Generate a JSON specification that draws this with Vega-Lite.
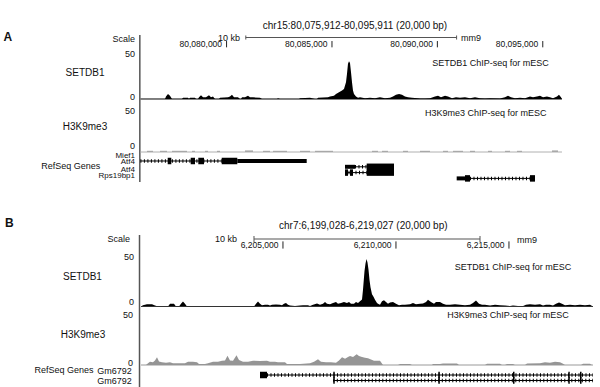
{
"$schema":"https://vega.github.io/schema/vega-lite/v6.json",
"width":600,"height":387,"padding":0,
"autosize":{"type":"none"},
"background":"white",
"config":{"view":{"stroke":null},"axis":{"disable":true},"text":{"font":"Liberation Sans","color":"#111"}},
"datasets":{
"setdb1A":[{"pos":80075912,"v":0},{"pos":80077079,"v":0},{"pos":80077126,"v":3},{"pos":80077221,"v":6},{"pos":80077316,"v":4},{"pos":80077411,"v":0},{"pos":80077885,"v":0},{"pos":80077933,"v":1.5},{"pos":80078170,"v":1.5},{"pos":80078217,"v":0},{"pos":80078265,"v":1.5},{"pos":80078502,"v":1.5},{"pos":80078550,"v":0},{"pos":80078644,"v":0},{"pos":80078692,"v":2},{"pos":80078787,"v":4.5},{"pos":80078882,"v":2},{"pos":80079024,"v":2},{"pos":80079166,"v":4.5},{"pos":80079261,"v":2},{"pos":80079356,"v":3},{"pos":80079451,"v":0},{"pos":80079641,"v":0},{"pos":80079688,"v":1.5},{"pos":80080068,"v":2},{"pos":80080162,"v":3},{"pos":80080257,"v":5},{"pos":80080352,"v":2},{"pos":80080542,"v":2},{"pos":80080637,"v":0},{"pos":80080684,"v":0},{"pos":80080732,"v":2},{"pos":80080874,"v":2},{"pos":80081016,"v":4},{"pos":80081111,"v":2},{"pos":80081254,"v":2},{"pos":80081586,"v":1.5},{"pos":80081680,"v":0},{"pos":80082392,"v":0},{"pos":80082439,"v":1},{"pos":80082534,"v":0},{"pos":80083436,"v":0},{"pos":80083483,"v":1},{"pos":80083958,"v":1.5},{"pos":80084195,"v":0},{"pos":80084290,"v":0},{"pos":80084337,"v":1.5},{"pos":80084811,"v":2},{"pos":80084906,"v":3},{"pos":80085096,"v":4},{"pos":80085191,"v":6},{"pos":80085333,"v":8},{"pos":80085476,"v":10},{"pos":80085570,"v":12},{"pos":80085665,"v":20},{"pos":80085713,"v":30},{"pos":80085760,"v":42},{"pos":80085808,"v":45},{"pos":80085855,"v":43},{"pos":80085902,"v":32},{"pos":80085950,"v":20},{"pos":80085997,"v":10},{"pos":80086045,"v":6},{"pos":80086140,"v":3},{"pos":80086235,"v":1.5},{"pos":80086329,"v":2},{"pos":80086567,"v":1},{"pos":80086804,"v":1.5},{"pos":80087041,"v":1},{"pos":80087278,"v":2},{"pos":80087515,"v":1},{"pos":80087753,"v":1.5},{"pos":80087895,"v":3},{"pos":80088037,"v":5},{"pos":80088180,"v":6},{"pos":80088322,"v":5},{"pos":80088464,"v":3},{"pos":80088606,"v":2},{"pos":80088796,"v":1.5},{"pos":80089081,"v":1},{"pos":80089176,"v":0.5},{"pos":80089413,"v":0.5},{"pos":80089650,"v":1},{"pos":80089887,"v":3},{"pos":80090030,"v":4},{"pos":80090172,"v":2},{"pos":80090362,"v":4},{"pos":80090504,"v":3},{"pos":80090694,"v":1},{"pos":80090883,"v":2},{"pos":80091073,"v":1.5},{"pos":80091310,"v":2},{"pos":80091548,"v":1},{"pos":80091785,"v":2},{"pos":80092022,"v":1},{"pos":80092259,"v":0.5},{"pos":80092496,"v":1},{"pos":80092971,"v":0.5},{"pos":80093208,"v":2},{"pos":80093350,"v":4},{"pos":80093493,"v":2},{"pos":80093682,"v":1},{"pos":80093920,"v":1.5},{"pos":80094157,"v":1},{"pos":80094394,"v":3},{"pos":80094536,"v":2},{"pos":80094726,"v":3},{"pos":80094868,"v":4},{"pos":80095011,"v":2},{"pos":80095200,"v":3},{"pos":80095343,"v":2},{"pos":80095485,"v":1},{"pos":80095675,"v":3},{"pos":80095769,"v":5},{"pos":80095864,"v":2},{"pos":80095911,"v":0}],
"h3k9A":[{"start":80076225,"end":80076510,"v":1.5},{"start":80076842,"end":80077174,"v":1.5},{"start":80077411,"end":80078123,"v":1.5},{"start":80078360,"end":80078502,"v":1.5},{"start":80078976,"end":80079119,"v":1.5},{"start":80079546,"end":80079688,"v":1.5},{"start":80080874,"end":80081254,"v":2},{"start":80081728,"end":80082060,"v":1.5},{"start":80082202,"end":80082866,"v":1.5},{"start":80083483,"end":80083958,"v":1.5},{"start":80084195,"end":80085049,"v":1.5},{"start":80086899,"end":80087183,"v":1.5},{"start":80087373,"end":80087658,"v":1.5},{"start":80088369,"end":80088606,"v":1.5},{"start":80089176,"end":80089650,"v":1.5},{"start":80090267,"end":80090504,"v":1.5},{"start":80090741,"end":80091216,"v":1.5},{"start":80091548,"end":80091785,"v":1.5},{"start":80092402,"end":80092591,"v":1.5},{"start":80093208,"end":80093445,"v":1.5},{"start":80093777,"end":80094014,"v":1.5},{"start":80095438,"end":80095722,"v":2}],
"genesA":[{"gene":"Mief1","row":0,"start":80075912,"end":80079769,"part":"intron"},{"gene":"Mief1","row":0,"start":80077207,"end":80077378,"part":"cds"},{"gene":"Mief1","row":0,"start":80078298,"end":80078502,"part":"cds"},{"gene":"Mief1","row":0,"start":80078659,"end":80078929,"part":"cds"},{"gene":"Mief1","row":0,"start":80079769,"end":80080509,"part":"cds"},{"gene":"Mief1","row":0,"start":80080509,"end":80083801,"part":"utr"},{"gene":"Atf4","row":1,"start":80085618,"end":80086092,"part":"utr"},{"gene":"Atf4","row":1,"start":80086092,"end":80086647,"part":"intron"},{"gene":"Atf4","row":1,"start":80086647,"end":80087942,"part":"cds"},{"gene":"Atf4","row":2,"start":80085618,"end":80086647,"part":"intron"},{"gene":"Atf4","row":2,"start":80085618,"end":80085760,"part":"cds"},{"gene":"Atf4","row":2,"start":80085855,"end":80085997,"part":"cds"},{"gene":"Atf4","row":2,"start":80086647,"end":80087942,"part":"cds"},{"gene":"Rps19bp1","row":3,"start":80090916,"end":80091310,"part":"utr"},{"gene":"Rps19bp1","row":3,"start":80091310,"end":80091547,"part":"cds"},{"gene":"Rps19bp1","row":3,"start":80091547,"end":80094393,"part":"intron"},{"gene":"Rps19bp1","row":3,"start":80094393,"end":80094630,"part":"cds"}],
"setdb1B":[{"pos":6199028,"v":0},{"pos":6199116,"v":1.5},{"pos":6199293,"v":2.5},{"pos":6199515,"v":2.5},{"pos":6199647,"v":1},{"pos":6199780,"v":0},{"pos":6200223,"v":0},{"pos":6200311,"v":3},{"pos":6200488,"v":3},{"pos":6200577,"v":0},{"pos":6200709,"v":0},{"pos":6200798,"v":3},{"pos":6200886,"v":5.7},{"pos":6200975,"v":3},{"pos":6201063,"v":0},{"pos":6204028,"v":0},{"pos":6204117,"v":3},{"pos":6204205,"v":5.7},{"pos":6204294,"v":3},{"pos":6204382,"v":1.5},{"pos":6204515,"v":2},{"pos":6204647,"v":2},{"pos":6204736,"v":1},{"pos":6204824,"v":2},{"pos":6205001,"v":2.3},{"pos":6205178,"v":2},{"pos":6205267,"v":1.5},{"pos":6205355,"v":3},{"pos":6205444,"v":4},{"pos":6205532,"v":2},{"pos":6205621,"v":1},{"pos":6205842,"v":0.5},{"pos":6206063,"v":1},{"pos":6206196,"v":1.5},{"pos":6206417,"v":1.5},{"pos":6206506,"v":0.5},{"pos":6206639,"v":2},{"pos":6206816,"v":3.5},{"pos":6206948,"v":2},{"pos":6207081,"v":3},{"pos":6207170,"v":5},{"pos":6207258,"v":3},{"pos":6207391,"v":2.5},{"pos":6207524,"v":4},{"pos":6207656,"v":5},{"pos":6207745,"v":3},{"pos":6207878,"v":4},{"pos":6208010,"v":5},{"pos":6208143,"v":4},{"pos":6208232,"v":5},{"pos":6208320,"v":3},{"pos":6208453,"v":3},{"pos":6208541,"v":5},{"pos":6208630,"v":4},{"pos":6208718,"v":6},{"pos":6208807,"v":8},{"pos":6208851,"v":19},{"pos":6208917,"v":40},{"pos":6208962,"v":49},{"pos":6209006,"v":54},{"pos":6209050,"v":50},{"pos":6209094,"v":42},{"pos":6209139,"v":30},{"pos":6209183,"v":22},{"pos":6209249,"v":14},{"pos":6209316,"v":11},{"pos":6209382,"v":7.6},{"pos":6209471,"v":4},{"pos":6209515,"v":3},{"pos":6209603,"v":2},{"pos":6209692,"v":6},{"pos":6209780,"v":7},{"pos":6209869,"v":5},{"pos":6209957,"v":3},{"pos":6210046,"v":4.5},{"pos":6210179,"v":5},{"pos":6210311,"v":3},{"pos":6210444,"v":1.5},{"pos":6210577,"v":2},{"pos":6210709,"v":2},{"pos":6210931,"v":2.5},{"pos":6211063,"v":4},{"pos":6211196,"v":2.5},{"pos":6211373,"v":3},{"pos":6211506,"v":3.5},{"pos":6211639,"v":5},{"pos":6211727,"v":7.6},{"pos":6211860,"v":5},{"pos":6211993,"v":3},{"pos":6212081,"v":5},{"pos":6212258,"v":5},{"pos":6212391,"v":3},{"pos":6212524,"v":2},{"pos":6212701,"v":2},{"pos":6212922,"v":2.5},{"pos":6213143,"v":2},{"pos":6213364,"v":1.5},{"pos":6213586,"v":2},{"pos":6213718,"v":4},{"pos":6213851,"v":6.8},{"pos":6213984,"v":3},{"pos":6214117,"v":2},{"pos":6214249,"v":2},{"pos":6214471,"v":1},{"pos":6214692,"v":2},{"pos":6214913,"v":1.5},{"pos":6215134,"v":1},{"pos":6215356,"v":0.5},{"pos":6215488,"v":1},{"pos":6215709,"v":0.5},{"pos":6215886,"v":0},{"pos":6216063,"v":2},{"pos":6216240,"v":2.5},{"pos":6216462,"v":2},{"pos":6216683,"v":2.5},{"pos":6216816,"v":1},{"pos":6216948,"v":2},{"pos":6217125,"v":2},{"pos":6217258,"v":1},{"pos":6217391,"v":3},{"pos":6217524,"v":4.5},{"pos":6217656,"v":3},{"pos":6217789,"v":1.5},{"pos":6218010,"v":2},{"pos":6218232,"v":1.5},{"pos":6218453,"v":2},{"pos":6218674,"v":1.5},{"pos":6218895,"v":2},{"pos":6219027,"v":0}],
"h3k9B":[{"pos":6199028,"v":0},{"pos":6199249,"v":0},{"pos":6199338,"v":2},{"pos":6199426,"v":3.7},{"pos":6199559,"v":3},{"pos":6199647,"v":5},{"pos":6199736,"v":8.5},{"pos":6199824,"v":4},{"pos":6199957,"v":3},{"pos":6200134,"v":2.5},{"pos":6200311,"v":3},{"pos":6200444,"v":2},{"pos":6200754,"v":2},{"pos":6200975,"v":2},{"pos":6201108,"v":3.7},{"pos":6201329,"v":3.7},{"pos":6201506,"v":3},{"pos":6201594,"v":1},{"pos":6201860,"v":1},{"pos":6201993,"v":2},{"pos":6202214,"v":3.7},{"pos":6202435,"v":3.5},{"pos":6202612,"v":4.8},{"pos":6202745,"v":5},{"pos":6202855,"v":10.4},{"pos":6202966,"v":5},{"pos":6203099,"v":4.8},{"pos":6203254,"v":10.7},{"pos":6203364,"v":5.5},{"pos":6203541,"v":3.7},{"pos":6203763,"v":3.7},{"pos":6203984,"v":4.8},{"pos":6204294,"v":4.5},{"pos":6204603,"v":4.8},{"pos":6204736,"v":3.7},{"pos":6204957,"v":3.5},{"pos":6205090,"v":3},{"pos":6205400,"v":3},{"pos":6205488,"v":1},{"pos":6205842,"v":1},{"pos":6206063,"v":1},{"pos":6206506,"v":2},{"pos":6206683,"v":3.7},{"pos":6206860,"v":6.3},{"pos":6206993,"v":3.5},{"pos":6207214,"v":3},{"pos":6207435,"v":3},{"pos":6207656,"v":2.5},{"pos":6207789,"v":5},{"pos":6207922,"v":8.5},{"pos":6208055,"v":7},{"pos":6208187,"v":9},{"pos":6208276,"v":10},{"pos":6208409,"v":9},{"pos":6208572,"v":12},{"pos":6208674,"v":10},{"pos":6208807,"v":9},{"pos":6208940,"v":8},{"pos":6209072,"v":7.4},{"pos":6209205,"v":6},{"pos":6209338,"v":4.8},{"pos":6209603,"v":4.8},{"pos":6209736,"v":0},{"pos":6210400,"v":0},{"pos":6210488,"v":1},{"pos":6210931,"v":1},{"pos":6211019,"v":0},{"pos":6211904,"v":0},{"pos":6211948,"v":1},{"pos":6212258,"v":1},{"pos":6212391,"v":1.8},{"pos":6213010,"v":1.8},{"pos":6213099,"v":0},{"pos":6214249,"v":0},{"pos":6214338,"v":1.3},{"pos":6214913,"v":1.3},{"pos":6215002,"v":0},{"pos":6215134,"v":0},{"pos":6215223,"v":1},{"pos":6215488,"v":1},{"pos":6215577,"v":0},{"pos":6216019,"v":0},{"pos":6216108,"v":1.8},{"pos":6216683,"v":2},{"pos":6216904,"v":3},{"pos":6217125,"v":2.5},{"pos":6217347,"v":3.5},{"pos":6217568,"v":3},{"pos":6217701,"v":1.5},{"pos":6217789,"v":0},{"pos":6218497,"v":0},{"pos":6218586,"v":1.3},{"pos":6218895,"v":1.3},{"pos":6218984,"v":0},{"pos":6219027,"v":0}],
"genesB":[{"gene":"Gm6792","row":0,"start":6204603,"end":6219027,"part":"intron"},{"gene":"Gm6792","row":0,"start":6204294,"end":6204603,"part":"cds"},{"gene":"Gm6792","row":0,"start":6207537,"end":6207600,"part":"cds"},{"gene":"Gm6792","row":0,"start":6212183,"end":6212250,"part":"cds"},{"gene":"Gm6792","row":0,"start":6215488,"end":6215555,"part":"cds"},{"gene":"Gm6792","row":0,"start":6217936,"end":6218000,"part":"cds"},{"gene":"Gm6792","row":0,"start":6218453,"end":6218520,"part":"cds"},{"gene":"Gm6792","row":1,"start":6207537,"end":6219027,"part":"intron"},{"gene":"Gm6792","row":1,"start":6207537,"end":6207600,"part":"cds"},{"gene":"Gm6792","row":1,"start":6212183,"end":6212250,"part":"cds"},{"gene":"Gm6792","row":1,"start":6215488,"end":6215555,"part":"cds"},{"gene":"Gm6792","row":1,"start":6217936,"end":6218000,"part":"cds"},{"gene":"Gm6792","row":1,"start":6218453,"end":6218520,"part":"cds"}]
},
"layer":[
{"resolve":{"scale":{"y":"independent"}},
 "layer":[
  {"encoding":{"x":{"field":"pos","type":"quantitative","scale":{"domain":[80069251.7,80097714.7],"nice":false,"zero":false},"axis":null},"y":{"field":"v","type":"quantitative","scale":{"domain":[-342.857,117.857],"nice":false,"zero":false},"axis":null}},
   "layer":[
    {"data":{"name":"setdb1A"},"mark":{"type":"area","color":"#000","interpolate":"linear"}},
    {"data":{"values":[{"start":80075912,"end":80095911,"v":0}]},"mark":{"type":"rule","color":"#000","strokeWidth":1},"encoding":{"x":{"field":"start","type":"quantitative"},"x2":{"field":"end"}}},
    {"data":{"values":[{"pos":80075885,"v":76.2,"v2":-98.8}]},"mark":{"type":"rule","color":"#555","strokeWidth":1.5},"encoding":{"y2":{"field":"v2"}}},
    {"data":{"values":[{"start":80080912,"end":80090912,"v":73.2}]},"mark":{"type":"rule","color":"#555","strokeWidth":1.2},"encoding":{"x":{"field":"start","type":"quantitative"},"x2":{"field":"end"}}},
    {"data":{"values":[{"pos":80080912,"v":70.8,"v2":75.6},{"pos":80090912,"v":70.8,"v2":75.6}]},"mark":{"type":"rule","color":"#555","strokeWidth":1},"encoding":{"y2":{"field":"v2"}}},
    {"data":{"values":[{"pos":80080000,"v":61.5,"v2":69},{"pos":80085000,"v":61.5,"v2":69},{"pos":80090000,"v":61.5,"v2":69},{"pos":80095000,"v":61.5,"v2":69}]},"mark":{"type":"rule","color":"#222","strokeWidth":1},"encoding":{"y2":{"field":"v2"}}},
    {"data":{"values":[{"pos":80080000,"v":65.1,"label":"80,080,000"},{"pos":80085000,"v":65.1,"label":"80,085,000"},{"pos":80090000,"v":65.1,"label":"80,090,000"},{"pos":80095000,"v":65.1,"label":"80,095,000"}]},"mark":{"type":"text","align":"right","baseline":"middle","dx":-4.5,"fontSize":8.5},"encoding":{"text":{"field":"label"}}},
    {"data":{"values":[{"pos":80069418,"v":73.5,"label":"A"}]},"mark":{"type":"text","align":"left","baseline":"middle","fontSize":12,"fontWeight":"bold"},"encoding":{"text":{"field":"label"}}},
    {"data":{"values":[{"pos":80086092,"v":86.9,"label":"chr15:80,075,912-80,095,911 (20,000 bp)"},{"pos":80073284,"v":31.3,"label":"SETDB1"}]},"mark":{"type":"text","align":"center","baseline":"middle","fontSize":10},"encoding":{"text":{"field":"label"}}},
    {"data":{"values":[{"pos":80092521,"v":43.2,"label":"SETDB1 ChIP-seq for mESC"}]},"mark":{"type":"text","align":"center","baseline":"middle","fontSize":9},"encoding":{"text":{"field":"label"}}},
    {"data":{"values":[{"pos":80075656,"v":71.4,"label":"Scale"},{"pos":80080637,"v":73,"label":"10 kb"},{"pos":80075656,"v":53.6,"label":"50"},{"pos":80075656,"v":2.4,"label":"0"}]},"mark":{"type":"text","align":"right","baseline":"middle","fontSize":9},"encoding":{"text":{"field":"label"}}},
    {"data":{"values":[{"pos":80091121,"v":72.3,"label":"mm9"}]},"mark":{"type":"text","align":"left","baseline":"middle","fontSize":9},"encoding":{"text":{"field":"label"}}}
   ]},
  {"encoding":{"x":{"field":"pos","type":"quantitative","scale":{"domain":[80069251.7,80097714.7],"nice":false,"zero":false},"axis":null},"y":{"field":"v","type":"quantitative","scale":{"domain":[-293.75,190],"nice":false,"zero":false},"axis":null}},
   "layer":[
    {"data":{"values":[{"start":80075912,"end":80095911,"v":0}]},"mark":{"type":"rule","color":"#b0b0b0","strokeWidth":1},"encoding":{"x":{"field":"start","type":"quantitative"},"x2":{"field":"end"}}},
    {"data":{"name":"h3k9A"},"mark":{"type":"rect","color":"#a8a8a8"},"encoding":{"x":{"field":"start","type":"quantitative"},"x2":{"field":"end"},"y2":{"datum":0}}},
    {"data":{"values":[{"pos":80075656,"v":51.25,"label":"50"},{"pos":80075656,"v":7.5,"label":"0"}]},"mark":{"type":"text","align":"right","baseline":"middle","fontSize":9},"encoding":{"text":{"field":"label"}}},
    {"data":{"values":[{"pos":80073284,"v":31.6,"label":"H3K9me3"}]},"mark":{"type":"text","align":"center","baseline":"middle","fontSize":10},"encoding":{"text":{"field":"label"}}},
    {"data":{"values":[{"pos":80092292,"v":48.4,"label":"H3K9me3 ChIP-seq for mESC"}]},"mark":{"type":"text","align":"center","baseline":"middle","fontSize":9},"encoding":{"text":{"field":"label"}}}
   ]},
  {"encoding":{"x":{"field":"start","type":"quantitative","scale":{"domain":[80069251.7,80097714.7],"nice":false,"zero":false},"axis":null},"y":{"field":"row","type":"quantitative","scale":{"domain":[38.9655,-27.7586],"nice":false,"zero":false},"axis":null}},
   "layer":[
    {"data":{"name":"genesA"},"transform":[{"filter":"datum.part === 'intron'"}],"mark":{"type":"rule","color":"#000","strokeWidth":1},"encoding":{"x2":{"field":"end"}}},
    {"data":{"name":"genesA"},"transform":[{"filter":"datum.part === 'intron'"}],"mark":{"type":"rule","color":"#000","strokeWidth":3.5,"strokeDash":[1,2.5]},"encoding":{"x2":{"field":"end"}}},
    {"data":{"name":"genesA"},"transform":[{"filter":"datum.part !== 'intron'"}],"mark":{"type":"rule","color":"#000","strokeCap":"butt"},"encoding":{"x2":{"field":"end"},"strokeWidth":{"field":"part","type":"nominal","scale":{"domain":["cds","utr"],"range":[6.5,4]},"legend":null}}},
    {"data":{"values":[{"start":80075656,"row":-0.86,"label":"Mief1"},{"start":80075656,"row":0.17,"label":"Atf4"},{"start":80075656,"row":1.47,"label":"Atf4"},{"start":80075656,"row":2.59,"label":"Rps19bp1"}]},"mark":{"type":"text","align":"right","baseline":"middle","fontSize":8},"encoding":{"text":{"field":"label"}}},
    {"data":{"values":[{"start":80072611,"row":0.81,"label":"RefSeq Genes"}]},"mark":{"type":"text","align":"center","baseline":"middle","fontSize":9},"encoding":{"text":{"field":"label"}}}
   ]}
 ]},
{"resolve":{"scale":{"y":"independent"}},
 "layer":[
  {"encoding":{"x":{"field":"pos","type":"quantitative","scale":{"domain":[6192789.1,6219337.7],"nice":false,"zero":false},"axis":null},"y":{"field":"v","type":"quantitative","scale":{"domain":[-91.477,348.295],"nice":false,"zero":false},"axis":null}},
   "layer":[
    {"data":{"name":"setdb1B"},"mark":{"type":"area","color":"#000","interpolate":"linear"}},
    {"data":{"values":[{"start":6199028,"end":6219027,"v":0}]},"mark":{"type":"rule","color":"#333","strokeWidth":1},"encoding":{"x":{"field":"start","type":"quantitative"},"x2":{"field":"end"}}},
    {"data":{"values":[{"pos":6198962,"v":81.25,"v2":-91.5}]},"mark":{"type":"rule","color":"#555","strokeWidth":1.5},"encoding":{"y2":{"field":"v2"}}},
    {"data":{"values":[{"start":6204028,"end":6214028,"v":76.7}]},"mark":{"type":"rule","color":"#555","strokeWidth":1.2},"encoding":{"x":{"field":"start","type":"quantitative"},"x2":{"field":"end"}}},
    {"data":{"values":[{"pos":6204028,"v":73.3,"v2":80.1},{"pos":6214028,"v":73.3,"v2":80.1}]},"mark":{"type":"rule","color":"#555","strokeWidth":1},"encoding":{"y2":{"field":"v2"}}},
    {"data":{"values":[{"pos":6205000,"v":65.8,"v2":74},{"pos":6210000,"v":65.8,"v2":74},{"pos":6215000,"v":65.8,"v2":74}]},"mark":{"type":"rule","color":"#222","strokeWidth":1,"xOffset":7},"encoding":{"y2":{"field":"v2"}}},
    {"data":{"values":[{"pos":6205000,"v":69.9,"label":"6,205,000"},{"pos":6210000,"v":69.9,"label":"6,210,000"},{"pos":6215000,"v":69.9,"label":"6,215,000"}]},"mark":{"type":"text","align":"right","baseline":"middle","dx":-4.5,"xOffset":7,"fontSize":8.5},"encoding":{"text":{"field":"label"}}},
    {"data":{"values":[{"pos":6193010,"v":95.2,"label":"B"}]},"mark":{"type":"text","align":"left","baseline":"middle","fontSize":12,"fontWeight":"bold"},"encoding":{"text":{"field":"label"}}},
    {"data":{"values":[{"pos":6208864,"v":91.5,"label":"chr7:6,199,028-6,219,027 (20,000 bp)"},{"pos":6196439,"v":33.2,"label":"SETDB1"}]},"mark":{"type":"text","align":"center","baseline":"middle","fontSize":10},"encoding":{"text":{"field":"label"}}},
    {"data":{"values":[{"pos":6215488,"v":45.2,"label":"SETDB1 ChIP-seq for mESC"}]},"mark":{"type":"text","align":"center","baseline":"middle","fontSize":9},"encoding":{"text":{"field":"label"}}},
    {"data":{"values":[{"pos":6198541,"v":76.4,"label":"Scale"},{"pos":6203276,"v":76.4,"label":"10 kb"},{"pos":6198718,"v":56.6,"label":"50"},{"pos":6198718,"v":5.1,"label":"0"}]},"mark":{"type":"text","align":"right","baseline":"middle","fontSize":9},"encoding":{"text":{"field":"label"}}},
    {"data":{"values":[{"pos":6215665,"v":75.6,"label":"mm9"}]},"mark":{"type":"text","align":"left","baseline":"middle","fontSize":9},"encoding":{"text":{"field":"label"}}}
   ]},
  {"encoding":{"x":{"field":"pos","type":"quantitative","scale":{"domain":[6192789.1,6219337.7],"nice":false,"zero":false},"axis":null},"y":{"field":"v","type":"quantitative","scale":{"domain":[-24.444,405.556],"nice":false,"zero":false},"axis":null}},
   "layer":[
    {"data":{"values":[{"start":6199028,"end":6219027,"v":0}]},"mark":{"type":"rule","color":"#999","strokeWidth":1},"encoding":{"x":{"field":"start","type":"quantitative"},"x2":{"field":"end"}}},
    {"data":{"name":"h3k9B"},"mark":{"type":"area","color":"#959595","interpolate":"linear"}},
    {"data":{"values":[{"pos":6198674,"v":55.6,"label":"50"},{"pos":6198674,"v":2.6,"label":"0"}]},"mark":{"type":"text","align":"right","baseline":"middle","fontSize":9},"encoding":{"text":{"field":"label"}}},
    {"data":{"values":[{"pos":6196462,"v":33.3,"label":"H3K9me3"}]},"mark":{"type":"text","align":"center","baseline":"middle","fontSize":10},"encoding":{"text":{"field":"label"}}},
    {"data":{"values":[{"pos":6215267,"v":55.6,"label":"H3K9me3 ChIP-seq for mESC"}]},"mark":{"type":"text","align":"center","baseline":"middle","fontSize":9},"encoding":{"text":{"field":"label"}}}
   ]},
  {"encoding":{"x":{"field":"start","type":"quantitative","scale":{"domain":[6192789.1,6219337.7],"nice":false,"zero":false},"axis":null},"y":{"field":"row","type":"quantitative","scale":{"domain":[2.1818,-68.1818],"nice":false,"zero":false},"axis":null}},
   "layer":[
    {"data":{"name":"genesB"},"transform":[{"filter":"datum.part === 'intron'"}],"mark":{"type":"rule","color":"#000","strokeWidth":1},"encoding":{"x2":{"field":"end"}}},
    {"data":{"name":"genesB"},"transform":[{"filter":"datum.part === 'intron'"}],"mark":{"type":"rule","color":"#000","strokeWidth":3.5,"strokeDash":[1,2.5]},"encoding":{"x2":{"field":"end"}}},
    {"data":{"name":"genesB"},"transform":[{"filter":"datum.part !== 'intron'"}],"mark":{"type":"rule","color":"#000","strokeCap":"butt"},"encoding":{"x2":{"field":"end"},"strokeWidth":{"field":"part","type":"nominal","scale":{"domain":["cds","utr"],"range":[6,4]},"legend":null}}},
    {"data":{"values":[{"start":6195621,"row":-0.91,"label":"RefSeq Genes"}]},"mark":{"type":"text","align":"center","baseline":"middle","fontSize":9},"encoding":{"text":{"field":"label"}}},
    {"data":{"values":[{"start":6198616,"row":-0.78,"label":"Gm6792"},{"start":6198616,"row":1.09,"label":"Gm6792"}]},"mark":{"type":"text","align":"right","baseline":"middle","fontSize":9},"encoding":{"text":{"field":"label"}}}
   ]}
 ]}
],
"resolve":{"scale":{"x":"independent","y":"independent"}}
}
